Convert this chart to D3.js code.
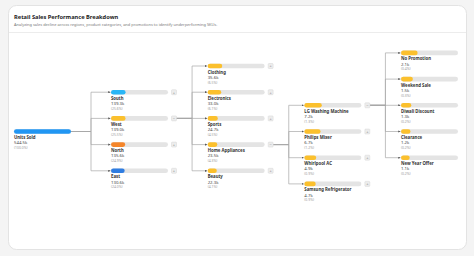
<!DOCTYPE html>
<html><head><meta charset="utf-8">
<script src="https://cdn.jsdelivr.net/npm/d3@7"></script>
<style>
html,body{margin:0;padding:0;background:#f4f4f4;}
svg{display:block;font-family:"Noto Sans","Open Sans",sans-serif;}
</style></head>
<body><svg id="c" width="474" height="256"></svg>
<script>
// ---- data ----
const chartTitle = "Retail Sales Performance Breakdown";
const chartSubtitle = "Analyzing sales decline across regions, product categories, and promotions to identify underperforming SKUs.";
const rootLabel = "Units Sold";
const rootValue = 544.5; // thousands
const regions = ["South", "West", "North", "East"];
const regionValues = [139.3, 139.0, 135.6, 130.6];
const regionColors = ["#29b6f6", "#fbc02d", "#f5862b", "#2f7de1"];
const categories = ["Clothing", "Electronics", "Sports", "Home Appliances", "Beauty"];
const categoryValues = [35.6, 33.0, 24.7, 23.5, 22.3];
const products = ["LG Washing Machine", "Philips Mixer", "Whirlpool AC", "Samsung Refrigerator"];
const productValues = [7.2, 6.7, 4.9, 4.7];
const promotions = ["No Promotion", "Weekend Sale", "Diwali Discount", "Clearance", "New Year Offer"];
const promotionValues = [2.1, 1.5, 1.3, 1.2, 1.1];
const expandedPath = ["West", "Home Appliances", "LG Washing Machine"];

// ---- build tree ----
function mk(names, vals, colors) {
  return names.map((n, i) => ({ name: n, value: vals[i], color: colors ? colors[i] : "#fbc02d" }));
}
const root = { name: rootLabel, value: rootValue, color: "#2196f3", children: mk(regions, regionValues, regionColors) };
const levelsData = [mk(categories, categoryValues), mk(products, productValues), mk(promotions, promotionValues)];
let cur = root;
expandedPath.forEach((p, i) => {
  const n = cur.children.find(c => c.name === p);
  n.children = levelsData[i];
  cur = n;
});

const svg = d3.select("#c");
// card
svg.append("rect").attr("x", 8.5).attr("y", 5.5).attr("width", 458).attr("height", 244)
  .attr("rx", 8).attr("fill", "#fff").attr("stroke", "#e3e3e3");
svg.append("text").attr("x", 14).attr("y", 19).attr("font-size", 5.7).attr("font-weight", 700)
  .attr("fill", "#222").text(chartTitle);
svg.append("text").attr("x", 14).attr("y", 25.8).attr("font-size", 3.95).attr("fill", "#777").text(chartSubtitle);
svg.append("line").attr("x1", 9).attr("x2", 466).attr("y1", 32.5).attr("y2", 32.5).attr("stroke", "#ececec");

// layout
const trackW = 57;
const levelX = d3.scaleLinear().domain([1, 4]).range([111, 401]);
const rowStep = 26.2;
const rootY = 131.5;

const nodes = [];
function place(node, depth, y, parent) {
  node.depth = depth; node.x = depth === 0 ? 14 : levelX(depth); node.y = y; node.parent = parent;
  nodes.push(node);
  if (node.children) {
    const k = node.children.length;
    const ys = d3.scaleLinear().domain([0, k - 1]).range([y - (k - 1) * rowStep / 2, y + (k - 1) * rowStep / 2]);
    node.children.forEach((c, i) => place(c, depth + 1, ys(i), node));
  }
}
place(root, 0, rootY, null);

const defs = svg.append("defs");
defs.append("marker").attr("id", "arr").attr("viewBox", "0 0 6 6").attr("refX", 6).attr("refY", 3)
  .attr("markerWidth", 3.2).attr("markerHeight", 3.2).attr("orient", "auto")
  .append("path").attr("d", "M0,0L6,3L0,6Z").attr("fill", "#555");

function outX(n) { return n.depth === 0 ? n.x + trackW : n.x + trackW + 8.5; }

// connectors
const gl = svg.append("g");
nodes.filter(n => n.parent).forEach(n => {
  const p = n.parent;
  const x0 = outX(p), xm = (outX(p) + n.x) / 2;
  const path = d3.path();
  path.moveTo(x0, p.y); path.lineTo(xm, p.y); path.lineTo(xm, n.y); path.lineTo(n.x - 0.5, n.y);
  gl.append("path").attr("d", path.toString()).attr("fill", "none").attr("stroke", "#a8a8a8")
    .attr("stroke-width", 0.7).attr("marker-end", "url(#arr)");
});

// nodes
const bh = 4.6;
const gn = svg.append("g");
nodes.forEach(n => {
  const g = gn.append("g").attr("transform", `translate(${n.x},${n.y})`);
  const w = d3.scaleLinear().domain([0, n.parent ? n.parent.value : n.value]).range([0, trackW]);
  g.append("rect").attr("x", 0).attr("y", -bh / 2).attr("width", trackW).attr("height", bh)
    .attr("rx", bh / 2).attr("fill", "#e4e4e4");
  g.append("rect").attr("x", 0).attr("y", -bh / 2).attr("width", w(n.value)).attr("height", bh)
    .attr("rx", bh / 2).attr("fill", n.color);
  if (n.depth > 0 && n.depth < 4) {
    g.append("rect").attr("x", trackW + 3.5).attr("y", -2.5).attr("width", 5).attr("height", 5)
      .attr("rx", 0.8).attr("fill", "#ededed").attr("stroke", "#d0d0d0").attr("stroke-width", 0.4);
    g.append("text").attr("x", trackW + 6).attr("y", 1.3).attr("text-anchor", "middle")
      .attr("font-size", 4).attr("fill", "#888").text(n.children ? "−" : "+");
  }
  g.append("text").attr("x", 0).attr("y", 7.6).attr("font-size", 4.3).attr("font-weight", 700)
    .attr("fill", "#333").text(n.name);
  g.append("text").attr("x", 0).attr("y", 12.8).attr("font-size", 4.3).attr("fill", "#444")
    .text(n.value.toFixed(1) + "k");
  g.append("text").attr("x", 0).attr("y", 17.6).attr("font-size", 3.4).attr("fill", "#999")
    .text("(" + (n.value / rootValue * 100).toFixed(1) + "%)");
});
</script></body></html>
